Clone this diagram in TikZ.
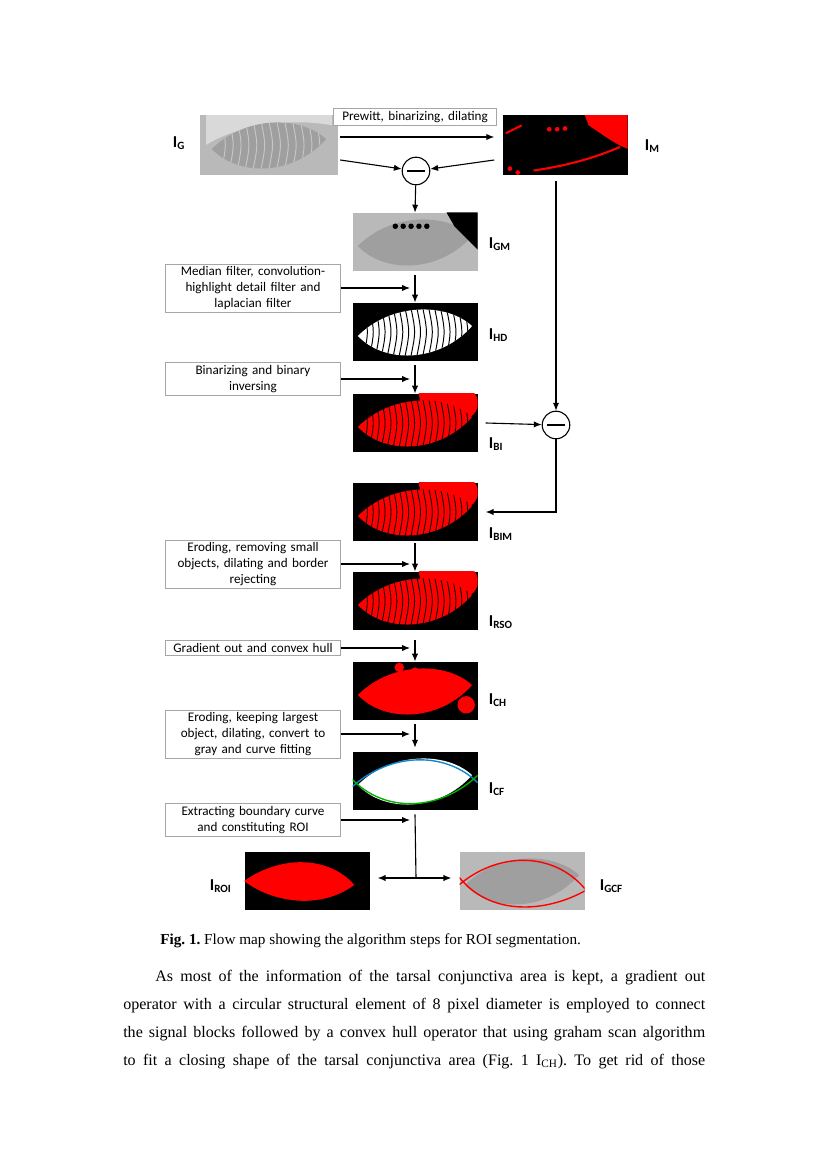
\documentclass[tikz,border=0pt]{standalone}
\usepackage{fontspec}
\setmainfont{Liberation Serif}
\newfontfamily\diagfont{Carlito}
\usetikzlibrary{arrows.meta,positioning,calc}
\frenchspacing

\tikzset{
  lens/.style={insert path={(-14.5,-1) .. controls (-6,7.5) and (8,7.5) .. (14.5,1.5) .. controls (6,-8) and (-8,-8) .. cycle}},
  img/.style={minimum width=31.75mm, minimum height=14.8mm, inner sep=0pt, draw=none},
  grayimg/.style={img, fill=gray!55, path picture={
      \begin{scope}[shift={(path picture bounding box.center)}, x=1mm, y=1mm]
        \fill[gray!30] (-16,8) -- (16,8) -- (16,5) .. controls (5,7) and (-8,5) .. (-16,0) -- cycle;
        \fill[gray!75, lens];
        \clip[lens];
        \foreach \s in {-12,-10,...,12} \draw[gray!45, line width=0.7pt] (\s,-6) .. controls (\s+1.2,0) .. (\s,6);
      \end{scope}}},
  blackimg/.style={img, fill=black},
  stripeimg/.style={img, fill=black, path picture={
      \begin{scope}[shift={(path picture bounding box.center)}, x=1mm, y=1mm]
        \fill[red] (6,7.5) circle (5mm) (12,5) circle (4mm);
        \fill[red, lens];
        \clip[lens];
        \foreach \s in {-13,-11.5,...,13} \draw[black, line width=0.6pt] (\s,-6) .. controls (\s+1.2,0) .. (\s,6);
      \end{scope}}},
  Box/.style={draw=gray!70, fill=white, text width=43mm, align=center, inner sep=2pt,
      font=\diagfont\fontsize{9.5}{11.3}\selectfont},
  Minus/.style={circle, draw, thick, minimum size=7mm, inner sep=0pt, path picture={
      \draw[line width=2pt] ([xshift=-2.2mm]path picture bounding box.center) -- ([xshift=2.2mm]path picture bounding box.center);}},
  Label/.style={font=\diagfont\fontsize{12}{14}\selectfont\bfseries, anchor=west},
  arr/.style={-{Latex[length=2mm,width=1.6mm]}, thick},
}

\begin{document}
\begin{tikzpicture}[x=0.254mm, y=-0.254mm]
  \useasboundingbox (0,0) rectangle (827,1169);
  \fill[white] (0,0) rectangle (827,1169);

  % images
  \node[grayimg, minimum width=35mm, minimum height=15.2mm] (IG) at (269,145) {};
  \node[blackimg, minimum height=15.2mm, path picture={
      \begin{scope}[shift={(path picture bounding box.center)}, x=1mm, y=1mm]
        \fill[red] (5,7.6) -- (16,7.6) -- (16,-1) .. controls (13,0) and (9,3) .. (6,5) -- cycle;
        \draw[red, line width=1.5pt] (-15,3) -- (-11,5);
        \draw[red, line width=1.5pt] (-8,-6.5) .. controls (2,-5) and (8,-3) .. (14,-0.5);
        \foreach \p in {(-14,-6),(-12,-7),(-4,4),(-2,4),(0,4.2)} \fill[red] \p circle (0.6mm);
      \end{scope}}] (IM) at (565,145) {};
  \node[grayimg, path picture={
      \begin{scope}[shift={(path picture bounding box.center)}, x=1mm, y=1mm]
        \fill[gray!75, lens];
        \fill[black] (8,7.5) -- (16,7.5) -- (16,-2) -- (10,4) -- cycle;
        \foreach \s in {-5,-3,...,3} \fill[black] (\s,4) circle (0.7mm);
      \end{scope}}] (IGM) at (415,242) {};
  \node[img, fill=black, path picture={
      \begin{scope}[shift={(path picture bounding box.center)}, x=1mm, y=1mm]
        \fill[white, lens];
        \clip[lens];
        \foreach \s in {-13,-11.5,...,13} \draw[black, line width=0.7pt] (\s,-6) .. controls (\s+1.2,0) .. (\s,6);
      \end{scope}}] (IHD) at (415,332) {};
  \node[stripeimg] (IBI) at (415,423) {};
  \node[stripeimg] (IBIM) at (415,512) {};
  \node[stripeimg] (IRSO) at (415,601) {};
  \node[blackimg, path picture={
      \begin{scope}[shift={(path picture bounding box.center)}, x=1mm, y=1mm]
        \fill[red, lens];
        \fill[red] (13,-3.5) circle (2.2mm) (-4,6) circle (1.2mm) (0,5) circle (1mm);
      \end{scope}}] (ICH) at (415,691) {};
  \node[blackimg, path picture={
      \begin{scope}[shift={(path picture bounding box.center)}, x=1mm, y=1mm]
        \fill[white, lens];
        \draw[cyan!70!blue, line width=1pt] (-16,-1.5) .. controls (-6,7.5) and (8,7.5) .. (16,-0.5);
        \draw[green!70!black, line width=1pt] (-16,0.5) .. controls (-8,-8) and (6,-8) .. (16,1.5);
      \end{scope}}] (ICF) at (415,781) {};
  \node[blackimg, path picture={
      \begin{scope}[shift={(path picture bounding box.center)}, x=1mm, y=1mm]
        \fill[red] (-16,0) .. controls (-6,7) and (6,6) .. (12,-1) .. controls (4,-7) and (-8,-6) .. cycle;
      \end{scope}}] (IROI) at (307,881) {};
  \node[grayimg, path picture={
      \begin{scope}[shift={(path picture bounding box.center)}, x=1mm, y=1mm]
        \fill[gray!75, lens];
        \draw[red, line width=1pt] (-16,-1) .. controls (-6,7.5) and (8,7.5) .. (16,-2);
        \draw[red, line width=1pt] (-16,1) .. controls (-8,-9) and (6,-8) .. (16,-2.5);
      \end{scope}}] (IGCF) at (522,881) {};

  % labels
  \node[Label] (lG) at (168,143) {I\textsubscript{G}};
  \node[Label] (lM) at (640,146) {I\textsubscript{M}};
  \node[Label] (lGM) at (484,244) {I\textsubscript{GM}};
  \node[Label] (lHD) at (484,335) {I\textsubscript{HD}};
  \node[Label] (lBI) at (484,444) {I\textsubscript{BI}};
  \node[Label] (lBIM) at (484,534) {I\textsubscript{BIM}};
  \node[Label] (lRSO) at (484,622) {I\textsubscript{RSO}};
  \node[Label] (lCH) at (484,700) {I\textsubscript{CH}};
  \node[Label] (lCF) at (484,789) {I\textsubscript{CF}};
  \node[Label] (lROI) at (205,886) {I\textsubscript{ROI}};
  \node[Label] (lGCF) at (595,886) {I\textsubscript{GCF}};

  % boxes
  \node[Box, text width=40mm] (prewitt) at (415,117) {Prewitt, binarizing, dilating};
  \node[Box] (median) at (253,288) {Median filter, convolution-\\highlight detail filter and\\laplacian filter};
  \node[Box] (binar) at (253,379) {Binarizing and binary\\inversing};
  \node[Box] (erode) at (253,564) {Eroding, removing small\\objects, dilating and border\\rejecting};
  \node[Box] (gradient) at (253,648) {Gradient out and convex hull};
  \node[Box] (keep) at (253,734) {Eroding, keeping largest\\object, dilating, convert to\\gray and curve fitting};
  \node[Box] (extract) at (253,820) {Extracting boundary curve\\and constituting ROI};

  \node[Minus] (m1) at (416,171) {};
  \node[Minus] (m2) at (556,425) {};
  \coordinate (j) at (416,878);

  % connectors
  \draw[arr] ($(IG.east)+(2,-8)$) -- ($(IM.west)+(-8,-8)$);
  \draw[arr] ($(IG.east)+(2,15)$) -- (m1);
  \draw[arr] ($(IM.west)+(-8,15)$) -- (m1);
  \draw[arr] (m1) -- (IGM.north);
  \draw[arr] ([yshift=-1mm]IGM.south) -- (IHD.north);
  \draw[arr] ([yshift=-1mm]IHD.south) -- (IBI.north);
  \draw[arr] ([yshift=-1.5mm]IM.south -| m2) -- (m2);
  \draw[arr] ([xshift=2mm]IBI.east) -- (m2);
  \draw[arr] (m2) |- ([xshift=2mm]IBIM.east);
  \draw[arr] ([yshift=-0.5mm]IBIM.south) -- (IRSO.north);
  \draw[arr] ([yshift=-2.5mm]IRSO.south) -- (ICH.north);
  \draw[arr] ([yshift=-1mm]ICH.south) -- ([yshift=1mm]ICF.north);
  \draw[thick] ([yshift=-1mm]ICF.south) -- (j);
  \draw[arr] (j) -- ([xshift=2mm]IROI.east |- j);
  \draw[arr] (j) -- ([xshift=-2mm]IGCF.west |- j);
  \foreach \b in {median,binar,erode,gradient,keep,extract}
    \draw[arr] (\b.east) -- (\b.east -| {$(m1)+(-6,0)$});

  % caption and text
  \node[anchor=base west, inner sep=0pt, font=\fontsize{11}{13}\selectfont] (cap) at (160,944)
    {\textbf{Fig. 1.} Flow map showing the algorithm steps for ROI segmentation.};
  \begin{scope}[every node/.style={anchor=base west, inner sep=0pt, font=\fontsize{11.6}{14}\selectfont}]
    \node (t1) at (155,981) {\makebox[139.7mm][s]{As most of the information of the tarsal conjunctiva area is kept, a gradient out}};
    \node (t2) at (123,1009) {\makebox[147.8mm][s]{operator with a circular structural element of 8 pixel diameter is employed to connect}};
    \node (t3) at (123,1037) {\makebox[147.8mm][s]{the signal blocks followed by a convex hull operator that using graham scan algorithm}};
    \node (t4) at (123,1065) {\makebox[147.8mm][s]{to fit a closing shape of the tarsal conjunctiva area (Fig. 1 I\textsubscript{CH}). To get rid of those}};
  \end{scope}
\end{tikzpicture}
\end{document}
